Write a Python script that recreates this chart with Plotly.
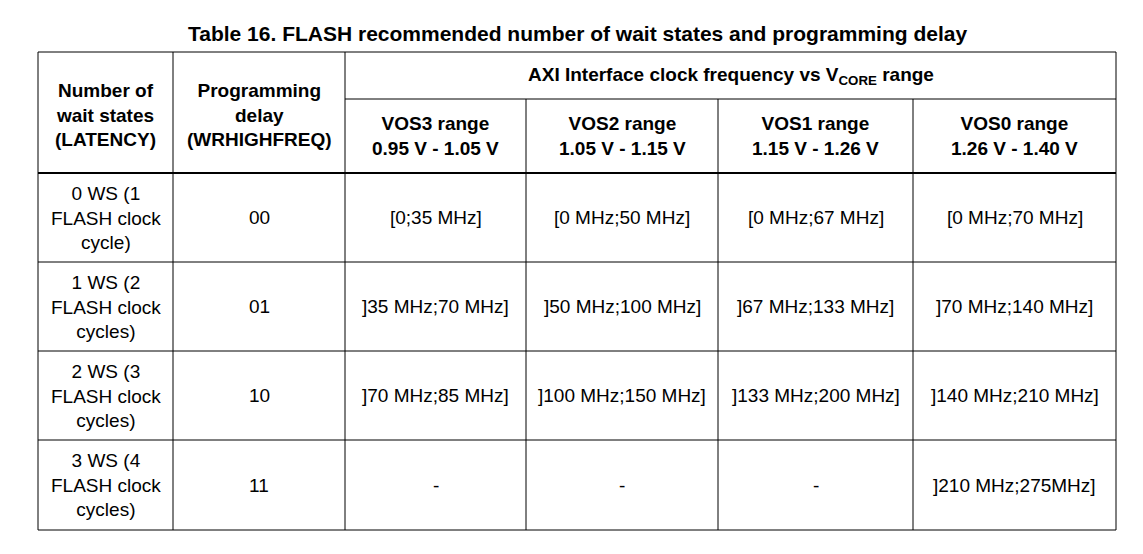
import plotly.graph_objects as go

title = "Table 16. FLASH recommended number of wait states and programming delay"
head_left = ["Number of<br>wait states<br>(LATENCY)", "Programming<br>delay<br>(WRHIGHFREQ)"]
head_group = "AXI Interface clock frequency vs V<sub>CORE</sub> range"
vos_heads = ["VOS3 range<br>0.95 V - 1.05 V", "VOS2 range<br>1.05 V - 1.15 V",
             "VOS1 range<br>1.15 V - 1.26 V", "VOS0 range<br>1.26 V - 1.40 V"]
latency = ["0 WS (1<br>FLASH clock<br>cycle)", "1 WS (2<br>FLASH clock<br>cycles)",
           "2 WS (3<br>FLASH clock<br>cycles)", "3 WS (4<br>FLASH clock<br>cycles)"]
delay = ["00", "01", "10", "11"]
vos3 = ["[0;35 MHz]", "]35 MHz;70 MHz]", "]70 MHz;85 MHz]", "-"]
vos2 = ["[0 MHz;50 MHz]", "]50 MHz;100 MHz]", "]100 MHz;150 MHz]", "-"]
vos1 = ["[0 MHz;67 MHz]", "]67 MHz;133 MHz]", "]133 MHz;200 MHz]", "-"]
vos0 = ["[0 MHz;70 MHz]", "]70 MHz;140 MHz]", "]140 MHz;210 MHz]", "]210 MHz;275MHz]"]

# layout geometry in screen pixels (page body has an 8px margin)
col_edges = [38, 173, 345, 526, 718, 913, 1116]
top, mid, head_bot = 52, 99, 173
row_edges = [173, 262, 351, 440, 530]

fig = go.Figure()
shapes = []
line = dict(color="black", width=1)

def hline(y, x0, x1, w=1):
    shapes.append(dict(type="line", x0=x0, x1=x1, y0=y, y1=y, line=dict(color="black", width=w)))

def vline(x, y0, y1):
    shapes.append(dict(type="line", x0=x, x1=x, y0=y0, y1=y1, line=line))

hline(top, col_edges[0], col_edges[-1])
hline(mid, col_edges[2], col_edges[-1])
hline(head_bot, col_edges[0], col_edges[-1], 2)
for y in row_edges[1:]:
    hline(y, col_edges[0], col_edges[-1])
for i, x in enumerate(col_edges):
    if i in (3, 4, 5):
        vline(x, mid, row_edges[-1])
    else:
        vline(x, top, row_edges[-1])

ann = []
def txt(x, y, s, bold=False, size=19):
    ann.append(dict(x=x, y=y, text=f"<b>{s}</b>" if bold else s, showarrow=False,
                    font=dict(family="Liberation Sans, Arial", size=size, color="black"),
                    xanchor="center", yanchor="middle", align="center"))

txt((col_edges[0] + col_edges[-1]) / 2, 33, title, True, 21)
for i, s in enumerate(head_left):
    txt((col_edges[i] + col_edges[i + 1]) / 2, (top + head_bot) / 2 + 2, s, True)
txt((col_edges[2] + col_edges[-1]) / 2, (top + mid) / 2, head_group, True)
for i, s in enumerate(vos_heads):
    txt((col_edges[i + 2] + col_edges[i + 3]) / 2, (mid + head_bot) / 2, s, True)

cols = [latency, delay, vos3, vos2, vos1, vos0]
for c, vals in enumerate(cols):
    for r, s in enumerate(vals):
        txt((col_edges[c] + col_edges[c + 1]) / 2, (row_edges[r] + row_edges[r + 1]) / 2, s)

fig.update_layout(
    width=1143, height=554, margin=dict(l=0, r=0, t=0, b=0),
    plot_bgcolor="white", paper_bgcolor="white",
    xaxis=dict(range=[8, 1151], visible=False),
    yaxis=dict(range=[562, 8], visible=False),
    shapes=shapes, annotations=ann, showlegend=False,
)
fig.write_html("out.html")
